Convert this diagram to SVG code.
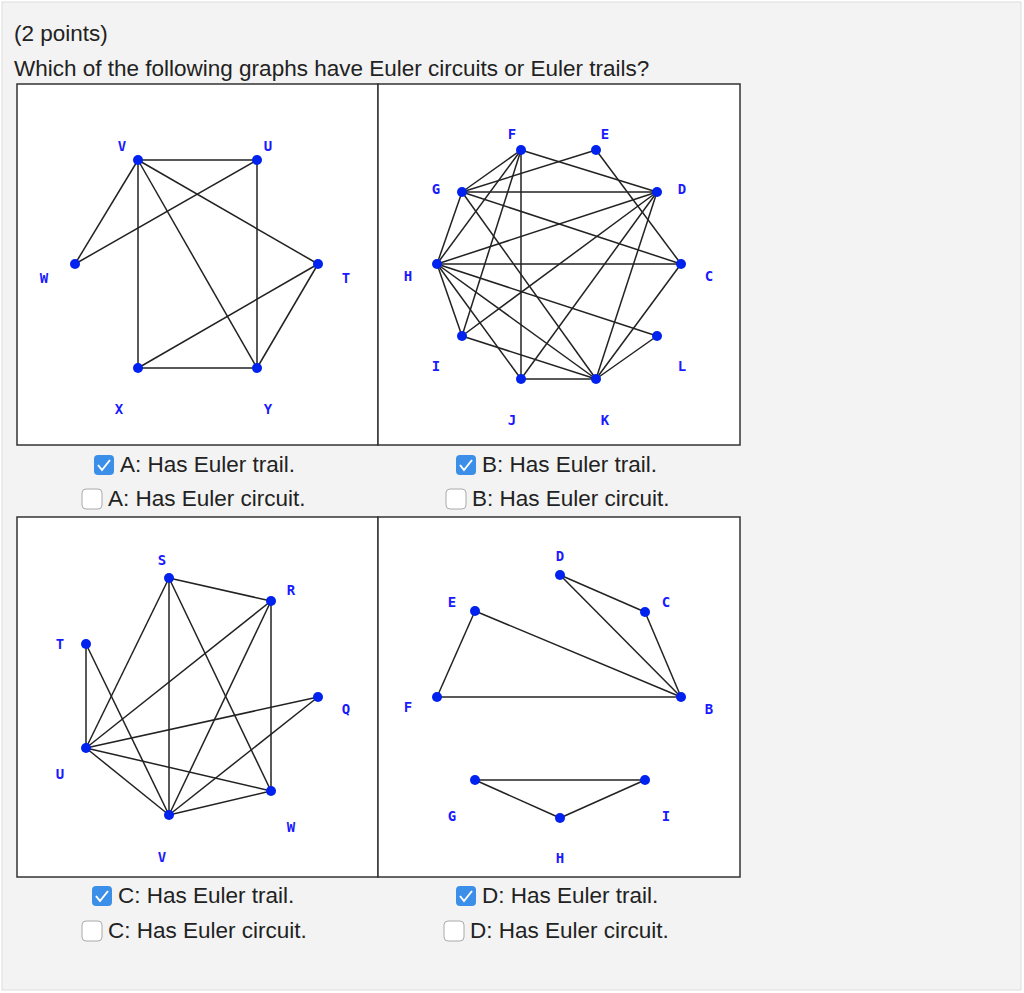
<svg xmlns="http://www.w3.org/2000/svg" width="1024" height="993" viewBox="0 0 1024 993">
<style>
.t{font-family:"Liberation Sans",Arial,sans-serif;font-size:22.5px;fill:#222}
.l{font-family:"DejaVu Sans Mono",monospace;font-weight:bold;font-size:14px;fill:#1a1aff;text-anchor:middle}
.e line{stroke:#222;stroke-width:1.5}
.n{fill:#0022ee}
.p{fill:#fff;stroke:#333;stroke-width:1.5}
.cb{fill:#fff;stroke:#aaa;stroke-width:1}
.ck{fill:#3b8fe8}
</style>
<rect x="0" y="0" width="1024" height="993" fill="#fff"/>
<rect x="2" y="2" width="1019" height="988" fill="#f3f3f3" stroke="#ddd"/>
<text class="t" x="14" y="41">(2 points)</text>
<text class="t" x="14" y="76">Which of the following graphs have Euler circuits or Euler trails?</text>
<rect class="p" x="17" y="84" width="361" height="361"/>
<rect class="p" x="378" y="84" width="362" height="361"/>
<rect class="p" x="17" y="517" width="361" height="360"/>
<rect class="p" x="378" y="517" width="362" height="360"/>
<g class="e" id="connectors">
<line x1="138" y1="160" x2="257" y2="160"/><line x1="138" y1="160" x2="138" y2="368"/><line x1="138" y1="160" x2="75" y2="264"/><line x1="75" y1="264" x2="257" y2="160"/><line x1="138" y1="160" x2="257" y2="368"/><line x1="138" y1="160" x2="318" y2="264"/><line x1="257" y1="160" x2="257" y2="368"/><line x1="138" y1="368" x2="257" y2="368"/><line x1="138" y1="368" x2="318" y2="264"/><line x1="318" y1="264" x2="257" y2="368"/>
<line x1="521" y1="150" x2="462" y2="192"/><line x1="521" y1="150" x2="657" y2="192"/><line x1="521" y1="150" x2="521" y2="379"/><line x1="521" y1="150" x2="437" y2="264"/><line x1="521" y1="150" x2="462" y2="336"/><line x1="596" y1="150" x2="462" y2="192"/><line x1="596" y1="150" x2="681" y2="264"/><line x1="462" y1="192" x2="657" y2="192"/><line x1="462" y1="192" x2="437" y2="264"/><line x1="462" y1="192" x2="596" y2="379"/><line x1="462" y1="192" x2="681" y2="264"/><line x1="657" y1="192" x2="437" y2="264"/><line x1="657" y1="192" x2="462" y2="336"/><line x1="657" y1="192" x2="521" y2="379"/><line x1="657" y1="192" x2="596" y2="379"/><line x1="437" y1="264" x2="681" y2="264"/><line x1="437" y1="264" x2="462" y2="336"/><line x1="437" y1="264" x2="521" y2="379"/><line x1="437" y1="264" x2="596" y2="379"/><line x1="437" y1="264" x2="657" y2="336"/><line x1="462" y1="336" x2="596" y2="379"/><line x1="521" y1="379" x2="596" y2="379"/><line x1="681" y1="264" x2="596" y2="379"/><line x1="657" y1="336" x2="596" y2="379"/>
<line x1="169" y1="578" x2="271" y2="601"/><line x1="169" y1="578" x2="86" y2="748"/><line x1="169" y1="578" x2="169" y2="815"/><line x1="169" y1="578" x2="271" y2="791"/><line x1="271" y1="601" x2="86" y2="748"/><line x1="271" y1="601" x2="169" y2="815"/><line x1="271" y1="601" x2="271" y2="791"/><line x1="86" y1="644" x2="86" y2="748"/><line x1="86" y1="644" x2="169" y2="815"/><line x1="318" y1="697" x2="86" y2="748"/><line x1="318" y1="697" x2="169" y2="815"/><line x1="86" y1="748" x2="271" y2="791"/><line x1="86" y1="748" x2="169" y2="815"/><line x1="169" y1="815" x2="271" y2="791"/>
<line x1="560" y1="575" x2="645" y2="612"/><line x1="560" y1="575" x2="681" y2="697"/><line x1="645" y1="612" x2="681" y2="697"/><line x1="475" y1="611" x2="681" y2="697"/><line x1="475" y1="611" x2="437" y2="697"/><line x1="437" y1="697" x2="681" y2="697"/><line x1="475" y1="780" x2="645" y2="780"/><line x1="475" y1="780" x2="560" y2="818"/><line x1="560" y1="818" x2="645" y2="780"/>
</g>
<g id="graphA"><circle class="n" cx="138" cy="160" r="5"/><text class="l" x="122" y="151">V</text><circle class="n" cx="257" cy="160" r="5"/><text class="l" x="268" y="151">U</text><circle class="n" cx="75" cy="264" r="5"/><text class="l" x="44" y="283">W</text><circle class="n" cx="318" cy="264" r="5"/><text class="l" x="346" y="283">T</text><circle class="n" cx="138" cy="368" r="5"/><text class="l" x="119" y="414">X</text><circle class="n" cx="257" cy="368" r="5"/><text class="l" x="268" y="414">Y</text></g>
<g id="graphB"><circle class="n" cx="521" cy="150" r="5"/><text class="l" x="512" y="139">F</text><circle class="n" cx="596" cy="150" r="5"/><text class="l" x="605" y="139">E</text><circle class="n" cx="462" cy="192" r="5"/><text class="l" x="436" y="194">G</text><circle class="n" cx="657" cy="192" r="5"/><text class="l" x="682" y="194">D</text><circle class="n" cx="437" cy="264" r="5"/><text class="l" x="408" y="281">H</text><circle class="n" cx="681" cy="264" r="5"/><text class="l" x="709" y="281">C</text><circle class="n" cx="462" cy="336" r="5"/><text class="l" x="436" y="371">I</text><circle class="n" cx="657" cy="336" r="5"/><text class="l" x="682" y="371">L</text><circle class="n" cx="521" cy="379" r="5"/><text class="l" x="512" y="425">J</text><circle class="n" cx="596" cy="379" r="5"/><text class="l" x="605" y="425">K</text></g>
<g id="graphC"><circle class="n" cx="169" cy="578" r="5"/><text class="l" x="162" y="565">S</text><circle class="n" cx="271" cy="601" r="5"/><text class="l" x="291" y="595">R</text><circle class="n" cx="86" cy="644" r="5"/><text class="l" x="60" y="649">T</text><circle class="n" cx="318" cy="697" r="5"/><text class="l" x="346" y="714">Q</text><circle class="n" cx="86" cy="748" r="5"/><text class="l" x="60" y="779">U</text><circle class="n" cx="271" cy="791" r="5"/><text class="l" x="291" y="832">W</text><circle class="n" cx="169" cy="815" r="5"/><text class="l" x="162" y="862">V</text></g>
<g id="graphD"><circle class="n" cx="560" cy="575" r="5"/><text class="l" x="560" y="561">D</text><circle class="n" cx="645" cy="612" r="5"/><text class="l" x="666" y="607">C</text><circle class="n" cx="475" cy="611" r="5"/><text class="l" x="452" y="607">E</text><circle class="n" cx="437" cy="697" r="5"/><text class="l" x="408" y="712">F</text><circle class="n" cx="681" cy="697" r="5"/><text class="l" x="709" y="714">B</text><circle class="n" cx="475" cy="780" r="5"/><text class="l" x="452" y="821">G</text><circle class="n" cx="645" cy="780" r="5"/><text class="l" x="666" y="821">I</text><circle class="n" cx="560" cy="818" r="5"/><text class="l" x="560" y="863">H</text></g>
<g id="checks">
<rect class="ck" x="94" y="455" width="20" height="20" rx="4"/><path d="M98 465l4 5 8-10" stroke="#fff" stroke-width="2" fill="none"/><text class="t" x="120" y="472">A: Has Euler trail.</text>
<rect class="cb" x="82" y="489" width="20" height="20" rx="4"/><text class="t" x="108" y="506">A: Has Euler circuit.</text>
<rect class="ck" x="456" y="455" width="20" height="20" rx="4"/><path d="M460 465l4 5 8-10" stroke="#fff" stroke-width="2" fill="none"/><text class="t" x="482" y="472">B: Has Euler trail.</text>
<rect class="cb" x="446" y="489" width="20" height="20" rx="4"/><text class="t" x="472" y="506">B: Has Euler circuit.</text>
<rect class="ck" x="92" y="886" width="20" height="20" rx="4"/><path d="M96 896l4 5 8-10" stroke="#fff" stroke-width="2" fill="none"/><text class="t" x="118" y="903">C: Has Euler trail.</text>
<rect class="cb" x="82" y="921" width="20" height="20" rx="4"/><text class="t" x="108" y="938">C: Has Euler circuit.</text>
<rect class="ck" x="456" y="886" width="20" height="20" rx="4"/><path d="M460 896l4 5 8-10" stroke="#fff" stroke-width="2" fill="none"/><text class="t" x="482" y="903">D: Has Euler trail.</text>
<rect class="cb" x="444" y="921" width="20" height="20" rx="4"/><text class="t" x="470" y="938">D: Has Euler circuit.</text>
</g>
</svg>
